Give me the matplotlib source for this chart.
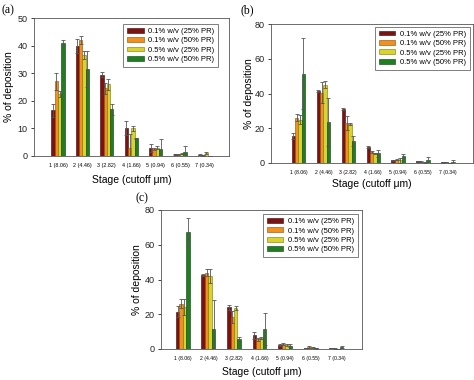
import matplotlib
matplotlib.use("Agg")
import matplotlib.pyplot as plt
import numpy as np

plt.rcParams['font.family'] = ['Liberation Sans', 'DejaVu Sans']

stages = ["1 (8.06)", "2 (4.46)", "3 (2.82)", "4 (1.66)", "5 (0.94)", "6 (0.55)", "7 (0.34)"]
series = ["0.1% w/v (25% PR)", "0.1% w/v (50% PR)", "0.5% w/v (25% PR)", "0.5% w/v (50% PR)"]
colors = ["#7d1212", "#f0901f", "#d8d42c", "#1f7d22"]
edges = ["#3a0505", "#8a4a08", "#7a7410", "#0c3d0e"]

# Panel (a)
a_vals = [
    [16.5, 40.0, 29.5, 10.0, 3.0, 0.6, 0.4],
    [27.0, 42.0, 24.5, 3.0, 2.5, 0.7, 0.2],
    [22.5, 36.5, 26.0, 10.0, 3.0, 0.8, 1.0],
    [41.0, 31.5, 17.0, 6.5, 2.5, 1.5, 0.0],
]
a_err = [
    [2.5, 2.5, 1.0, 2.5, 1.5, 0.2, 0.2],
    [3.0, 1.5, 2.0, 5.0, 0.5, 0.2, 0.1],
    [1.0, 1.5, 2.0, 1.0, 0.5, 0.2, 0.3],
    [1.0, 6.5, 2.0, 0.2, 3.5, 2.0, 0.1],
]
# Panel (b)
b_vals = [
    [15.5, 41.5, 31.0, 9.0, 1.5, 1.0, 0.3],
    [26.0, 40.5, 23.0, 6.5, 2.0, 0.8, 0.5],
    [25.0, 45.0, 22.5, 5.5, 1.5, 0.3, 0.1],
    [51.5, 23.5, 12.5, 5.5, 4.0, 1.5, 0.5],
]
b_err = [
    [1.5, 0.5, 0.5, 0.5, 0.3, 0.2, 0.1],
    [2.0, 6.0, 4.0, 0.5, 0.3, 0.2, 0.2],
    [2.5, 2.0, 0.5, 0.5, 1.5, 0.2, 0.1],
    [20.5, 14.0, 3.0, 2.0, 1.0, 2.0, 1.0],
]
# Panel (c)
c_vals = [
    [21.5, 42.5, 24.0, 8.0, 2.5, 0.5, 0.5],
    [26.0, 44.0, 18.5, 5.5, 3.0, 1.0, 0.3],
    [24.0, 42.0, 23.5, 6.5, 2.5, 1.0, 0.1],
    [67.5, 11.5, 5.5, 11.5, 2.0, 0.5, 1.0],
]
c_err = [
    [3.0, 0.5, 1.5, 2.0, 0.5, 0.2, 0.2],
    [2.5, 2.0, 3.5, 1.0, 0.5, 0.5, 0.1],
    [4.5, 4.0, 1.0, 0.5, 0.5, 0.3, 0.1],
    [8.0, 16.5, 1.5, 9.0, 1.0, 0.3, 0.5],
]

W, H = 474, 380
fig = plt.figure(figsize=(W / 100, H / 100), dpi=100)


def px_axes(l, t, r, b):
    return fig.add_axes([l / W, 1 - b / H, (r - l) / W, (b - t) / H])


def draw(ax, vals, errs, ymax, ystep, xlim, leg_anchor, ylab_x, xlab_y, xt_size):
    x = np.arange(1, len(stages) + 1)
    bw = 0.135
    for i in range(4):
        pos = x + (i - 1.5) * bw
        ax.bar(pos, vals[i], width=bw, color=colors[i], edgecolor=edges[i],
               linewidth=0.4, label=series[i], zorder=2)
        ax.errorbar(pos, vals[i], yerr=errs[i], fmt='none', ecolor='#555555',
                    elinewidth=0.6, capsize=1.2, capthick=0.6, zorder=3)
    ax.set_xlim(*xlim)
    ax.set_ylim(0, ymax)
    ax.set_yticks(np.arange(0, ymax + 1, ystep))
    ax.set_xticks(x)
    ax.set_xticklabels(stages, fontsize=xt_size)
    ax.tick_params(axis='x', length=0, pad=5)
    ax.tick_params(axis='y', length=2.5, width=0.6, labelsize=6.5, pad=2, colors='#222222')
    for s in ax.spines.values():
        s.set_linewidth(0.6)
        s.set_color('#555555')
    ax.set_ylabel("% of deposition", fontsize=7.5)
    ax.yaxis.set_label_coords(ylab_x, 0.5)
    ax.set_xlabel("Stage (cutoff \u03bcm)", fontsize=7.5)
    ax.xaxis.set_label_coords(0.5, xlab_y)
    leg = ax.legend(loc='upper right', bbox_to_anchor=leg_anchor, fontsize=5.5,
                    frameon=True, fancybox=False, edgecolor='#444444',
                    handlelength=2.2, handleheight=0.6, borderpad=0.5,
                    labelspacing=0.3, handletextpad=0.6, borderaxespad=0)
    leg.get_frame().set_linewidth(0.6)


ax_a = px_axes(34, 18, 229, 156)
draw(ax_a, a_vals, a_err, 50, 10, (0.02, 8.0), (0.944, 0.957), -0.10, -0.135, 3.9)
ax_b = px_axes(271, 24, 473, 163)
draw(ax_b, b_vals, b_err, 80, 20, (-0.1, 8.0), (0.985, 0.98), -0.084, -0.115, 3.7)
ax_c = px_axes(161, 210, 362, 349)
draw(ax_c, c_vals, c_err, 80, 20, (0.15, 8.0), (0.98, 0.97), -0.095, -0.13, 3.7)

fig.text(2 / W, 1 - 10 / H, "(a)", fontsize=8.5, family='Liberation Serif', va='center')
fig.text(240 / W, 1 - 10 / H, "(b)", fontsize=8.5, family='Liberation Serif', va='center')
fig.text(135 / W, 1 - 198 / H, "(c)", fontsize=8.5, family='Liberation Serif', va='center')

fig.savefig("out.png", dpi=100)
